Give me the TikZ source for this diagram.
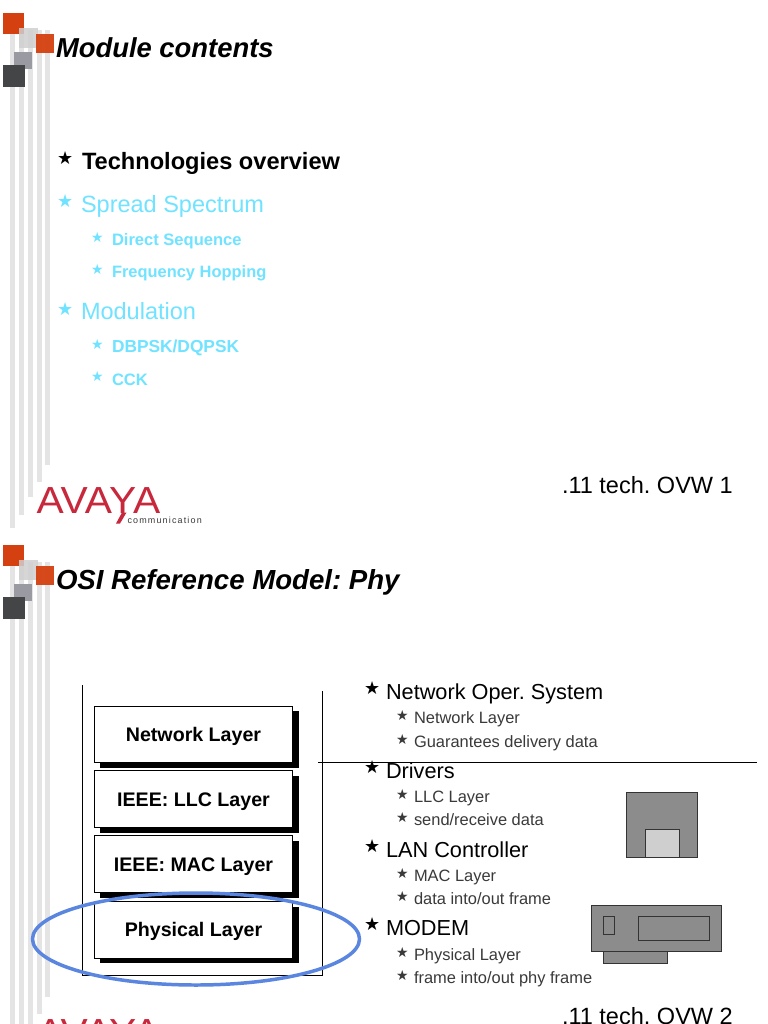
\documentclass[tikz,border=0pt]{standalone}
\usepackage{fontspec}
\setmainfont{Liberation Sans}
\newfontfamily\symf{DejaVu Sans}
\definecolor{cy}{HTML}{6FE3FF}
\definecolor{txtg}{HTML}{3A3A3A}
\definecolor{redq}{HTML}{D4400F}
\definecolor{lg}{HTML}{CFCFCF}
\definecolor{mg}{HTML}{9A9AA2}
\definecolor{dg}{HTML}{434547}
\definecolor{bar}{HTML}{E4E4E4}
\definecolor{ava}{HTML}{C8283C}
\definecolor{ic}{HTML}{8C8C8C}
\definecolor{oval}{HTML}{5B86E0}
\newcommand{\fs}[1]{\fontsize{#1}{#1}\selectfont}
\frenchspacing
\tikzset{
 tx/.style={anchor=base west,inner sep=0pt,outer sep=0pt},
 layerbox/.style={draw=black,line width=0.7pt,fill=white,minimum width=198bp,minimum height=56.5bp,inner sep=0pt,text height=14.5bp,text depth=0pt,font=\fs{19.7}\bfseries},
 shadowbox/.style={fill=black,draw=none,minimum width=198bp,minimum height=56.5bp,inner sep=0pt},
 iconbox/.style={fill=ic,draw=black!80,line width=0.8pt},
 frameline/.style={black,line width=0.7pt}
}
\newcommand{\stripes}[6]{%
 \foreach \xx/\yy in {10/#1,19/#2,28/#3,36.5/#4,45/#5}{\fill[bar] (\xx,#6) rectangle (\xx+5,\yy);}
}
\newcommand{\squares}[1]{%
 \begin{scope}[yshift=#1]
 \fill[redq] (3,13) rectangle (24,34);
 \fill[lg,opacity=.85] (19,28) rectangle (38,48);
 \fill[redq,opacity=.95] (36,34) rectangle (54,53);
 \fill[mg] (14,52) rectangle (32,69);
 \fill[dg] (3,65) rectangle (25,87);
 \end{scope}
}
\newcommand{\logo}[3]{%
 \node[tx,text=ava,xscale=.93,yscale=.86] (#1) at (36.5,#2-3) {\fs{44}AVAYA};
 \fill[ava] (122,#2-3.5) -- (126.5,#2-3.5) -- (120,#2+7.5) -- (116,#2+7.5) -- cycle;
 \node[tx,text=txtg] (#3) at (127.5,#2+7) {\fs{9}\addfontfeature{LetterSpace=13}communication};
}
\begin{document}
\begin{tikzpicture}[x=1bp,y=-1bp]
\useasboundingbox (0,0) rectangle (768,1024);
\clip (0,0) rectangle (768,1024);
\fill[white] (0,0) rectangle (768,1024);
% decor
\stripes{528}{515}{497}{482}{465}{30}
\stripes{1024}{1024}{1024}{1014}{997}{562}
\squares{0bp}
\squares{-532bp}
\logo{logoa}{516}{comma}
\logo{logob}{1048}{commb}
% slide 1 text
\node[tx] (t1) at (56,57) {\fs{27.5}\bfseries\itshape Module contents};
\node[tx] (s1) at (57,164) {\symf\fs{18}★};
\node[tx] (a1) at (82,169) {\fs{23.7}\bfseries Technologies overview};
\node[tx,text=cy] (s2) at (57,207) {\symf\fs{18}★};
\node[tx,text=cy] (a2) at (81,212) {\fs{23.6}Spread Spectrum};
\node[tx,text=cy] (s3) at (91,242) {\symf\fs{14}★};
\node[tx,text=cy] (a3) at (112,245) {\fs{16.6}\bfseries Direct Sequence};
\node[tx,text=cy] (s4) at (91,274) {\symf\fs{14}★};
\node[tx,text=cy] (a4) at (112,277) {\fs{16.5}\bfseries Frequency Hopping};
\node[tx,text=cy] (s5) at (57,315) {\symf\fs{18}★};
\node[tx,text=cy] (a5) at (81,319) {\fs{23.6}Modulation};
\node[tx,text=cy] (s6) at (91,349) {\symf\fs{14}★};
\node[tx,text=cy] (a6) at (112,352) {\fs{17.4}\bfseries DBPSK/DQPSK};
\node[tx,text=cy] (s7) at (91,381) {\symf\fs{14}★};
\node[tx,text=cy] (a7) at (112,385) {\fs{16.6}\bfseries CCK};
\node[tx] (f1) at (562,493) {\fs{23.6}.11 tech. OVW 1};
% slide 2
\node[tx] (t2) at (56,589) {\fs{27.7}\bfseries\itshape OSI Reference Model: Phy};
\coordinate (fa) at (82,685);
\coordinate (fb) at (82,975);
\coordinate (fc) at (322,975);
\coordinate (fd) at (322,691);
\draw[frameline] (fa) -- (fb) -- (fc) -- (fd);
\coordinate (ha) at (318,762.5);
\coordinate (hb) at (757,762.5);
\draw[frameline] (ha) -- (hb);
\foreach \nm/\cy/\lab in {n/734.2/Network Layer,l/799/IEEE: LLC Layer,m/864/IEEE: MAC Layer,p/929.7/Physical Layer}{
 \node[shadowbox] (\nm s) at (199.5,\cy+5.5) {};
 \node[layerbox] (\nm) at (193.5,\cy) {\lab};
}
\draw[oval,line width=3.5pt] (196,939) ellipse [x radius=163.5,y radius=46];
% right list
\foreach \nm/\yy/\lab in {b1/699/Network Oper. System,b2/778/Drivers,b3/857/LAN Controller,b4/935/MODEM}{
 \node[tx] (\nm s) at (364,\yy-4.5) {\symf\fs{18}★};
 \node[tx] (\nm) at (386,\yy) {\fs{21.8}\lab};
}
\foreach \nm/\yy/\lab in {c1/723/Network Layer,c2/747/Guarantees delivery data,c3/802/LLC Layer,c4/825/send\slash receive data,c5/881/MAC Layer,c6/904/data into\slash out frame,c7/960/Physical Layer,c8/983/frame into\slash out phy frame}{
 \node[tx,text=txtg] (\nm s) at (396,\yy-3) {\symf\fs{14}★};
 \node[tx,text=txtg] (\nm) at (414,\yy) {\fs{16.5}\lab};
}
% icons
\draw[iconbox] (626,792.5) rectangle (697,857);
\draw[iconbox,fill=lg] (645,829) rectangle (679.5,857);
\draw[iconbox] (603,951) rectangle (667.5,963);
\draw[iconbox] (591,905) rectangle (721,951);
\draw[iconbox] (603,916) rectangle (614.5,934);
\draw[iconbox] (638.5,916) rectangle (709,940);
\node[tx] (f2) at (562,1024.5) {\fs{23.6}.11 tech. OVW 2};
\end{tikzpicture}
\end{document}
